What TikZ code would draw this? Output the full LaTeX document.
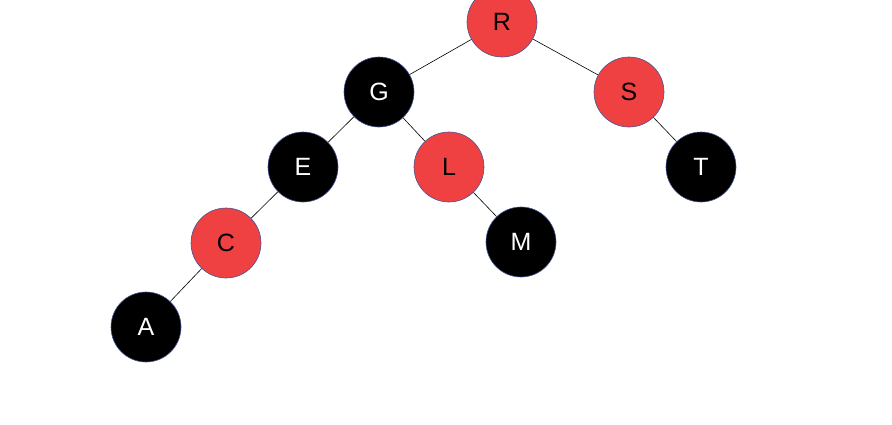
\documentclass[tikz,border=0pt]{standalone}
\usepackage{fontspec}
\setmainfont{Liberation Sans}
\begin{document}
\begin{tikzpicture}[x=1pt,y=-1pt,
  rb/.style={circle,minimum size=70pt,inner sep=0pt,draw={rgb,255:red,68;green,84;blue,150},line width=0.6pt,font=\fontsize{25}{25}\selectfont},
  red/.style={rb,fill={rgb,255:red,239;green,65;blue,65},text=black},
  blk/.style={rb,fill=black,text=white},
  ed/.style={draw=black,line width=0.6pt}]
\useasboundingbox (0,0) rectangle (892,424);
\node[red] (R) at (502,22) {R};
\node[blk] (G) at (379,92) {G};
\node[red] (S) at (629,92) {S};
\node[blk] (E) at (303,167) {E};
\node[red] (L) at (449,167) {L};
\node[blk] (T) at (701,167) {T};
\node[red] (C) at (226,243) {C};
\node[blk] (M) at (521,242) {M};
\node[blk] (A) at (146,327) {A};
\begin{scope}[on background layer/.style={}]
\end{scope}
\draw[ed] (R) -- (G);
\draw[ed] (R) -- (S);
\draw[ed] (G) -- (E);
\draw[ed] (G) -- (L);
\draw[ed] (S) -- (T);
\draw[ed] (E) -- (C);
\draw[ed] (L) -- (M);
\draw[ed] (C) -- (A);
\end{tikzpicture}
\end{document}
